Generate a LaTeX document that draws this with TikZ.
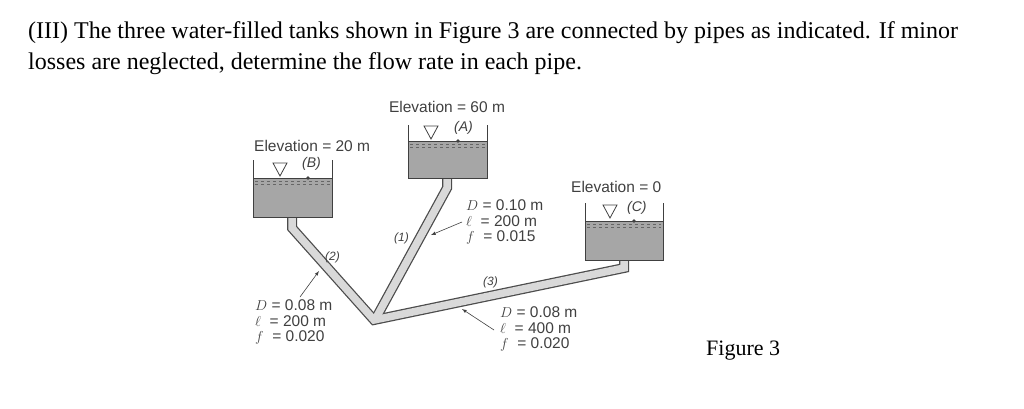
\documentclass[tikz,border=0pt]{standalone}
\usepackage{fontspec}
\setmainfont{Liberation Serif}
\newfontfamily\lab{Liberation Sans}
\begin{document}
\begin{tikzpicture}[x=1pt,y=-1pt,
  lbl/.style={font=\lab\fontsize{15.5}{15.5}\selectfont,inner sep=0pt,anchor=west,text=black!75},
  tri/.style={draw=black!75,line width=0.8pt},
  wall/.style={draw=black!75,line width=1pt},
  arr/.style={-latex,black!75,line width=0.6pt}]
\useasboundingbox (0,0) rectangle (1024,408);
\node[anchor=west,inner sep=0pt,font=\fontsize{24}{28}\selectfont] (t1) at (28,33) {(III) The three water-filled tanks shown in Figure 3 are connected by pipes as indicated. If minor};
\node[anchor=west,inner sep=0pt,font=\fontsize{24}{28}\selectfont] (t2) at (28,64) {losses are neglected, determine the flow rate in each pipe.};
\node[anchor=west,inner sep=0pt,font=\fontsize{22}{26}\selectfont] (fig) at (706,351) {Figure 3};
% pipes
\foreach \w/\c in {10/black!70,7.5/black!15}{
 \draw[line width=\w pt,\c,line join=miter] (292,215)--(292,228)--(374,320)--(624,268)--(624,258);
 \draw[line width=\w pt,\c,line join=miter] (447,176)--(447,188)--(376,318);
}
% tanks
\foreach \n/\xl/\xr/\yt/\yw/\yb in {B/253/332/160/178/217, A/408/487/125/141/178, C/585/663/203/221/260}{
 \fill[black!35] (\xl,\yw) rectangle (\xr,\yb);
 \draw[black!60,dashed,line width=0.5pt] (\xl+2,\yw+3)--(\xr-2,\yw+3);
 \draw[black!60,dashed,line width=0.5pt] (\xl+2,\yw+6)--(\xr-2,\yw+6);
 \draw[wall] (\xl,\yt)--(\xl,\yb)--(\xr,\yb)--(\xr,\yt);
 \draw[black!75,line width=0.6pt] (\xl,\yw)--(\xr,\yw);
}
\fill[black!75] (458,141) circle (1.8);
\fill[black!75] (308,178) circle (1.8);
\fill[black!75] (634,221) circle (1.8);
\draw[tri] (424,126)--(438,126)--(431,139)--cycle;
\draw[tri] (273,163)--(287,163)--(280,176)--cycle;
\draw[tri] (603,205)--(617,205)--(610,218)--cycle;
\node[lbl,font=\lab\itshape\fontsize{14}{14}\selectfont] (la) at (454,128) {(A)};
\node[lbl,font=\lab\itshape\fontsize{14}{14}\selectfont] (lb) at (302,164) {(B)};
\node[lbl,font=\lab\itshape\fontsize{14}{14}\selectfont] (lc) at (627,208) {(C)};
\node[lbl,anchor=center] (ea) at (447,107) {Elevation = 60 m};
\node[lbl] (eb) at (254,146) {Elevation = 20 m};
\node[lbl] (ec) at (571,187) {Elevation = 0};
\node[lbl,font=\lab\itshape\fontsize{12}{12}\selectfont] (p1) at (394,238) {(1)};
\node[lbl,font=\lab\itshape\fontsize{12}{12}\selectfont] (p2) at (325,257) {(2)};
\node[lbl,font=\lab\itshape\fontsize{12}{12}\selectfont] (p3) at (483,282) {(3)};
\node[lbl,align=left] (d1) at (466,222) {$D$ = 0.10 m\\$\ell$ \ = 200 m\\$f$ \ = 0.015};
\node[lbl,align=left] (d2) at (255,322) {$D$ = 0.08 m\\$\ell$ \ = 200 m\\$f$ \ = 0.020};
\node[lbl,align=left] (d3) at (500,329) {$D$ = 0.08 m\\$\ell$ \ = 400 m\\$f$ \ = 0.020};
\coordinate (a1) at (431,235);
\coordinate (a2) at (319,271);
\coordinate (a3) at (462,309);
\draw[arr] (462,222)--(a1);
\draw[arr] (300,297)--(a2);
\draw[arr] (494,330)--(a3);
\end{tikzpicture}
\end{document}
